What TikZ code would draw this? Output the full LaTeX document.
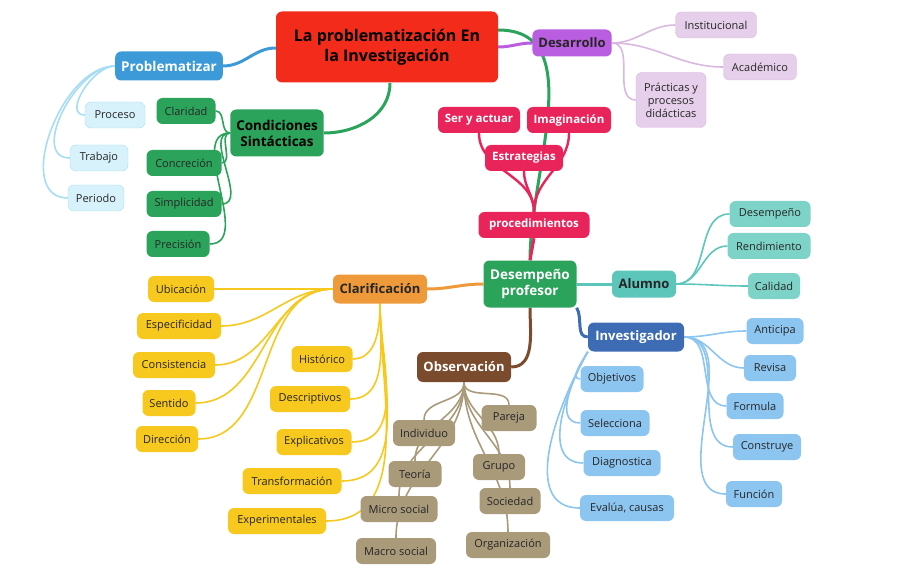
\documentclass[tikz,border=0pt]{standalone}
\usepackage{fontspec}
\setmainfont{Open Sans}
\usetikzlibrary{backgrounds}
\definecolor{cred}{HTML}{F32B1B}
\definecolor{cblue}{HTML}{3D9AD9}
\definecolor{clblue}{HTML}{D8F2FB}
\definecolor{clbline}{HTML}{A6DDF3}
\definecolor{cgreen}{HTML}{2BA35A}
\definecolor{cpurple}{HTML}{B95EE0}
\definecolor{clav}{HTML}{E6CFEA}
\definecolor{clavline}{HTML}{D9B9E0}
\definecolor{ccrim}{HTML}{E8245A}
\definecolor{cteal}{HTML}{5CC6BA}
\definecolor{clteal}{HTML}{7DD3C7}
\definecolor{cdblue}{HTML}{3E6CB4}
\definecolor{cskyb}{HTML}{8CC5F0}
\definecolor{corange}{HTML}{EE9A3B}
\definecolor{cyellow}{HTML}{F7C81E}
\definecolor{cbrown}{HTML}{7B4B2D}
\definecolor{ctan}{HTML}{A99A7A}
\tikzset{x=1pt,y=-1pt,
 box/.style={rounded corners=6pt,inner xsep=6pt,inner ysep=0pt,minimum height=26pt,align=center,font=\fontsize{11}{13}\selectfont,text=black!85},
 main/.style={box,font=\fontsize{13.5}{16}\selectfont\bfseries,minimum height=29pt},
 mid/.style={main,font=\fontsize{13}{16}\selectfont\bfseries,minimum height=27pt},
 crim/.style={box,fill=ccrim,text=white,font=\fontsize{11.5}{13}\selectfont\bfseries},
 ln/.style={line width=1.6pt},
 bl/.style={line width=3pt},
}
\begin{document}
\begin{tikzpicture}
\useasboundingbox (0,0) rectangle (897,580);
% root
\node[box,fill=cred,text=black,font=\fontsize{16}{20}\selectfont\bfseries,minimum width=222pt,minimum height=71pt] (root) at (387,47) {La problematización En\\la Investigación};
\node[main,fill=cblue,text=white,minimum width=106pt] (prob) at (169,66) {Problematizar};
\node[box,fill=clblue,draw=clbline,minimum width=60pt] (proc) at (115,115) {Proceso};
\node[box,fill=clblue,draw=clbline,minimum width=58pt] (trab) at (99,158) {Trabajo};
\node[box,fill=clblue,draw=clbline,minimum width=56pt] (peri) at (96,198) {Periodo};
\node[main,fill=cgreen,text=black,minimum width=93pt,minimum height=47pt] (cond) at (277,133) {Condiciones\\Sintácticas};
\node[box,fill=cgreen,minimum width=59pt] (clar) at (186,111) {Claridad};
\node[box,fill=cgreen,minimum width=75pt] (conc) at (184,163) {Concreción};
\node[box,fill=cgreen,minimum width=75pt] (simp) at (184,204) {Simplicidad};
\node[box,fill=cgreen,minimum width=63pt] (prec) at (178,244) {Precisión};
\node[mid,fill=cpurple,minimum width=79pt] (desa) at (572,43) {Desarrollo};
\node[box,fill=clav,draw=clavline,minimum width=81pt] (inst) at (716,25) {Institucional};
\node[box,fill=clav,draw=clavline,minimum width=73pt] (acad) at (760,67) {Académico};
\node[box,fill=clav,draw=clavline,minimum width=70pt,minimum height=55pt] (prac) at (671,100) {Prácticas y\\procesos\\didácticas};
\node[crim,minimum width=82pt] (ser) at (479,120) {Ser y actuar};
\node[crim,minimum width=84pt] (imag) at (569,120) {Imaginación};
\node[crim,minimum width=78pt] (estr) at (524,158) {Estrategias};
\node[crim,minimum width=111pt] (pdim) at (534,225) {procedimientos};
\node[main,fill=cgreen,text=white,minimum width=93pt,minimum height=47pt] (desp) at (530,284) {Desempeño\\profesor};
\node[mid,fill=cteal,minimum width=64pt] (alum) at (644,284) {Alumno};
\node[box,fill=clteal,minimum width=81pt] (dese) at (770,214) {Desempeño};
\node[box,fill=clteal,minimum width=83pt] (rend) at (769,246) {Rendimiento};
\node[box,fill=clteal,minimum width=52pt] (cali) at (774,286) {Calidad};
\node[mid,fill=cdblue,text=white,minimum width=96pt,minimum height=29pt] (inve) at (636,337) {Investigador};
\node[box,fill=cskyb,minimum width=57pt] (anti) at (775,331) {Anticipa};
\node[box,fill=cskyb,minimum width=52pt] (revi) at (770,368) {Revisa};
\node[box,fill=cskyb,minimum width=57pt] (form) at (755,406) {Formula};
\node[box,fill=cskyb,minimum width=68pt] (cons) at (767,447) {Construye};
\node[box,fill=cskyb,minimum width=56pt] (func) at (754,494) {Función};
\node[box,fill=cskyb,minimum width=63pt] (obje) at (612,379) {Objetivos};
\node[box,fill=cskyb,minimum width=69pt] (sele) at (615,423) {Selecciona};
\node[box,fill=cskyb,minimum width=77pt] (diag) at (622,463) {Diagnostica};
\node[box,fill=cskyb,minimum width=94pt] (eval) at (627,508) {Evalúa, causas};
\node[mid,fill=corange,minimum width=94pt,minimum height=29pt] (clari) at (380,289) {Clarificación};
\node[box,fill=cyellow,minimum width=66pt] (ubic) at (181,289) {Ubicación};
\node[box,fill=cyellow,minimum width=84pt] (espe) at (179,326) {Especificidad};
\node[box,fill=cyellow,minimum width=82pt] (consi) at (174,365) {Consistencia};
\node[box,fill=cyellow,minimum width=53pt] (sent) at (169,403) {Sentido};
\node[box,fill=cyellow,minimum width=62pt] (dire) at (167,439) {Dirección};
\node[box,fill=cyellow,minimum width=61pt] (hist) at (322,359) {Histórico};
\node[box,fill=cyellow,minimum width=80pt] (desc) at (310,399) {Descriptivos};
\node[box,fill=cyellow,minimum width=75pt] (expl) at (314,442) {Explicativos};
\node[box,fill=cyellow,minimum width=99pt] (tran) at (292,481) {Transformación};
\node[box,fill=cyellow,minimum width=98pt] (expe) at (277,521) {Experimentales};
\node[mid,fill=cbrown,text=white,minimum width=94pt,minimum height=30pt] (obse) at (464,367) {Observación};
\node[box,fill=ctan,minimum width=55pt] (pare) at (509,418) {Pareja};
\node[box,fill=ctan,minimum width=62pt] (indi) at (424,433) {Individuo};
\node[box,fill=ctan,minimum width=53pt] (teor) at (415,474) {Teoría};
\node[box,fill=ctan,minimum width=52pt] (grup) at (499,467) {Grupo};
\node[box,fill=ctan,minimum width=77pt] (micr) at (399,509) {Micro social};
\node[box,fill=ctan,minimum width=61pt] (soci) at (510,501) {Sociedad};
\node[box,fill=ctan,minimum width=80pt] (macr) at (396,551) {Macro social};
\node[box,fill=ctan,minimum width=84pt] (orga) at (508,545) {Organización};
\begin{scope}[on background layer]
\draw[bl,cblue] (root.west|-0,48) to[out=180,in=0] (prob.east);
\draw[bl,cgreen] (390,83) to[out=-90,in=0] (cond.east);
\draw[bl,cpurple] (root.east) to[out=0,in=180] (desa.west);
\draw[bl,cgreen] (root.east|-0,30) to[out=0,in=90] (desp.north);
\draw[ln,clbline] (prob.west) to[out=180,in=180] (proc.west);
\draw[ln,clbline] (prob.west) to[out=180,in=180] (trab.west);
\draw[ln,clbline] (prob.west) to[out=180,in=180] (peri.west);
\foreach \n in {clar,conc,simp,prec} \draw[ln,cgreen] (cond.west) to[out=180,in=0] (\n.east);
\foreach \n in {inst,acad,prac} \draw[ln,clavline] (desa.east) to[out=0,in=180] (\n.west);
\draw[bl,ccrim] (pdim.south) -- (desp.north);
\draw[ccrim,line width=2.4pt] (ser.south) to[out=-90,in=90] (pdim.north);
\draw[ccrim,line width=2.4pt] (imag.south) to[out=-90,in=90] (pdim.north);
\draw[ccrim,line width=2.4pt] (estr.south) to[out=-90,in=90] (pdim.north);
\draw[bl,cteal] (desp.east) to[out=0,in=180] (alum.west);
\foreach \n in {dese,rend,cali} \draw[ln,cteal] (alum.east) to[out=0,in=180] (\n.west);
\draw[bl,cdblue] (desp.south east) to[out=-60,in=180] (inve.west);
\foreach \n in {anti,revi,form,cons,func} \draw[ln,cskyb] (inve.east) to[out=0,in=180] (\n.west);
\foreach \n in {obje,sele,diag,eval} \draw[ln,cskyb] (inve.south west) to[out=-120,in=180] (\n.west);
\draw[bl,corange] (desp.west) to[out=180,in=0] (clari.east);
\foreach \n in {ubic,espe,consi,sent,dire} \draw[ln,cyellow] (clari.west) to[out=180,in=0] (\n.east);
\foreach \n in {hist,desc,expl,tran,expe} \draw[ln,cyellow] (clari.south) to[out=-90,in=0] (\n.east);
\draw[bl,cbrown] (desp.south) to[out=-90,in=0] (obse.east);
\foreach \n in {pare,indi,teor,grup,micr,soci,macr,orga} \draw[ln,ctan] (obse.south) to[out=-90,in=90] (\n.north);
\end{scope}
\end{tikzpicture}
\end{document}
